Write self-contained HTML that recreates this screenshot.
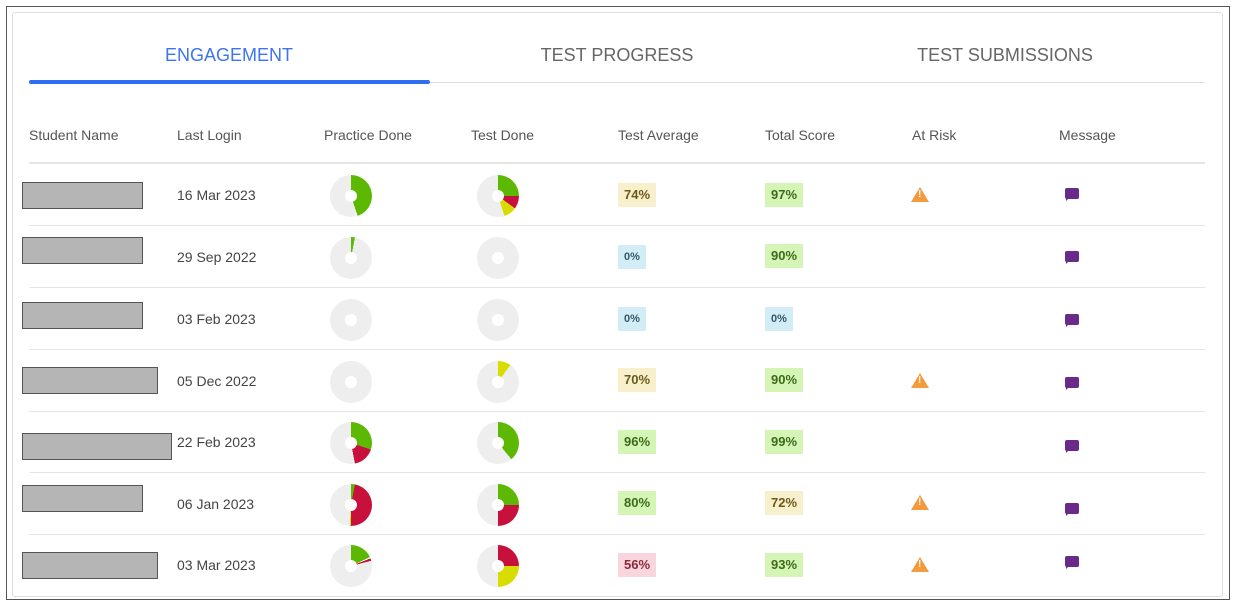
<!DOCTYPE html>
<html><head><meta charset="utf-8"><style>
*{margin:0;padding:0;box-sizing:border-box}
body{width:1233px;height:605px;background:#fff;position:relative;overflow:hidden;font-family:"Liberation Sans",sans-serif}
.a{position:absolute}
.frame{left:6px;top:6px;width:1224px;height:594px;border:1px solid #555}
.card{left:12px;top:12px;width:1211px;height:585px;border:1px solid #ddd;border-radius:3px}
.tab{top:45px;font-size:18px;letter-spacing:0;color:#666;text-align:center;width:300px}
.hd{top:127px;font-size:14px;color:#555}
.dt{font-size:14px;color:#444}
.ln{left:29px;width:1176px;height:2px;background:#e6e6e6}
.nm{left:22px;height:27px;background:#b5b5b5;border:1px solid #555}
.pie{width:42px;height:42px;border-radius:50%}
.pie:after{content:"";position:absolute;left:15px;top:15px;width:12px;height:12px;border-radius:50%;background:#fff}
.b{height:24px;font-size:13px;font-weight:bold;line-height:24px;padding:0 6px;color:#555}
.y{background:#f8f0cc;color:#6b5a1a}.g{background:#d4f5b5;color:#3d6b1a}.c{background:#d3edf7;color:#35586a;font-size:11px}.r{background:#f9d5dd;color:#8a2a3a}
.w{width:0;height:0;border-left:9px solid transparent;border-right:9px solid transparent;border-bottom:15px solid #f39a3c}
.w:after{content:"!";position:absolute;left:-2px;top:2px;color:#fff;font-size:10px;font-weight:bold}
.m{width:14px;height:11px;background:#6a2a8a;border-radius:2px}
.m:after{content:"";position:absolute;left:1px;top:10px;border-left:3px solid #6a2a8a;border-bottom:3px solid transparent}
</style></head><body>
<div class="a frame"></div><div class="a card"></div>
<div class="a tab" style="left:79px;color:#3d74f0">ENGAGEMENT</div>
<div class="a tab" style="left:467px">TEST PROGRESS</div>
<div class="a tab" style="left:855px">TEST SUBMISSIONS</div>
<div class="a" style="left:430px;top:82px;width:775px;height:1px;background:#ddd"></div>
<div class="a" style="left:29px;top:80px;width:401px;height:4px;background:#2f6df2;border-radius:2px"></div>
<div class="a hd" style="left:29px">Student Name</div>
<div class="a hd" style="left:177px">Last Login</div>
<div class="a hd" style="left:324px">Practice Done</div>
<div class="a hd" style="left:471px">Test Done</div>
<div class="a hd" style="left:618px">Test Average</div>
<div class="a hd" style="left:765px">Total Score</div>
<div class="a hd" style="left:912px">At Risk</div>
<div class="a hd" style="left:1059px">Message</div>
<div class="a ln" style="top:162px"></div>
<div class="a ln" style="top:225px;height:1px"></div>
<div class="a ln" style="top:287px;height:1px"></div>
<div class="a ln" style="top:349px;height:1px"></div>
<div class="a ln" style="top:411px;height:1px"></div>
<div class="a ln" style="top:472px;height:1px"></div>
<div class="a ln" style="top:534px;height:1px"></div>

<div class="a nm" style="top:182px;width:121px"></div>
<div class="a nm" style="top:237px;width:121px"></div>
<div class="a nm" style="top:302px;width:121px"></div>
<div class="a nm" style="top:367px;width:136px"></div>
<div class="a nm" style="top:433px;width:150px"></div>
<div class="a nm" style="top:485px;width:121px"></div>
<div class="a nm" style="top:552px;width:136px"></div>

<div class="a dt" style="left:177px;top:187px">16 Mar 2023</div>
<div class="a dt" style="left:177px;top:249px">29 Sep 2022</div>
<div class="a dt" style="left:177px;top:311px">03 Feb 2023</div>
<div class="a dt" style="left:177px;top:373px">05 Dec 2022</div>
<div class="a dt" style="left:177px;top:434px">22 Feb 2023</div>
<div class="a dt" style="left:177px;top:496px">06 Jan 2023</div>
<div class="a dt" style="left:177px;top:557px">03 Mar 2023</div>

<div class="a pie" style="left:330px;top:175px;background:conic-gradient(#5cb800 0 45%,#fff 45% 46%,#eee 46%)"></div>
<div class="a pie" style="left:477px;top:175px;background:conic-gradient(#5cb800 0 25%,#c8103c 25% 35%,#d8dc00 35% 45%,#eee 45%)"></div>
<div class="a pie" style="left:330px;top:237px;background:conic-gradient(#5cb800 0 3%,#eee 3%)"></div>
<div class="a pie" style="left:477px;top:237px;background:#eee"></div>
<div class="a pie" style="left:330px;top:299px;background:#eee"></div>
<div class="a pie" style="left:477px;top:299px;background:#eee"></div>
<div class="a pie" style="left:330px;top:361px;background:#eee"></div>
<div class="a pie" style="left:477px;top:361px;background:conic-gradient(#d8dc00 0 10%,#eee 10%)"></div>
<div class="a pie" style="left:330px;top:422px;background:conic-gradient(#5cb800 0 30%,#c8103c 30% 47%,#eee 47%)"></div>
<div class="a pie" style="left:477px;top:422px;background:conic-gradient(#5cb800 0 39%,#eee 39%)"></div>
<div class="a pie" style="left:330px;top:484px;background:conic-gradient(#5cb800 0 3%,#c8103c 3% 50%,#d8dc00 50% 51%,#eee 51%)"></div>
<div class="a pie" style="left:477px;top:484px;background:conic-gradient(#5cb800 0 25%,#c8103c 25% 50%,#eee 50%)"></div>
<div class="a pie" style="left:330px;top:545px;background:conic-gradient(#5cb800 0 18%,#fff 18% 19%,#c8103c 19% 21%,#eee 21%)"></div>
<div class="a pie" style="left:477px;top:545px;background:conic-gradient(#c8103c 0 25%,#d8dc00 25% 50%,#eee 50%)"></div>

<div class="a b y" style="left:618px;top:183px">74%</div>
<div class="a b g" style="left:765px;top:183px">97%</div>
<div class="a b c" style="left:618px;top:245px">0%</div>
<div class="a b g" style="left:765px;top:244px">90%</div>
<div class="a b c" style="left:618px;top:307px">0%</div>
<div class="a b c" style="left:765px;top:307px">0%</div>
<div class="a b y" style="left:618px;top:368px">70%</div>
<div class="a b g" style="left:765px;top:368px">90%</div>
<div class="a b g" style="left:618px;top:430px">96%</div>
<div class="a b g" style="left:765px;top:430px">99%</div>
<div class="a b g" style="left:618px;top:491px">80%</div>
<div class="a b y" style="left:765px;top:491px">72%</div>
<div class="a b r" style="left:618px;top:553px">56%</div>
<div class="a b g" style="left:765px;top:553px">93%</div>

<div class="a w" style="left:911px;top:187px"></div>
<div class="a w" style="left:911px;top:373px"></div>
<div class="a w" style="left:911px;top:495px"></div>
<div class="a w" style="left:911px;top:557px"></div>

<div class="a m" style="left:1065px;top:188px"></div>
<div class="a m" style="left:1065px;top:251px"></div>
<div class="a m" style="left:1065px;top:314px"></div>
<div class="a m" style="left:1065px;top:377px"></div>
<div class="a m" style="left:1065px;top:440px"></div>
<div class="a m" style="left:1065px;top:503px"></div>
<div class="a m" style="left:1065px;top:556px"></div>
</body></html>
